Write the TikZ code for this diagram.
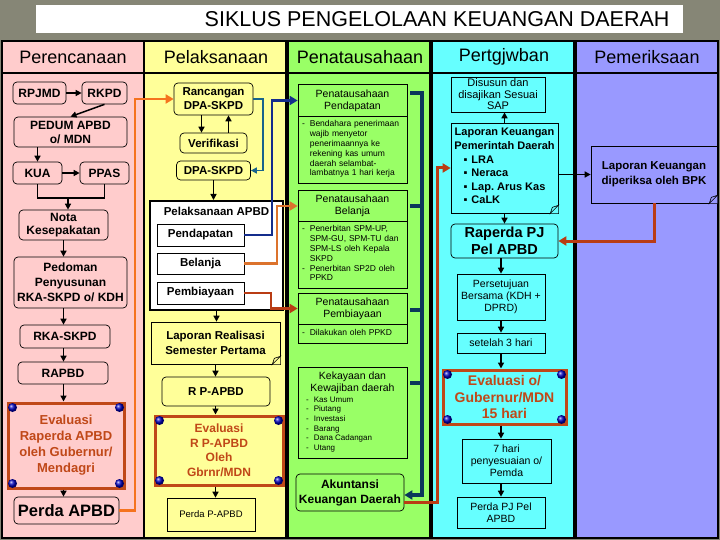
\documentclass[tikz,border=0pt]{standalone}
\usepackage{fontspec}
\setmainfont{Liberation Sans}
\usepackage{tikz}
\usetikzlibrary{arrows.meta,calc,positioning}

\definecolor{bgc}{RGB}{134,134,118}
\definecolor{pinkc}{RGB}{255,204,204}
\definecolor{yellowc}{RGB}{255,255,153}
\definecolor{greenc}{RGB}{153,255,102}
\definecolor{cyanc}{RGB}{102,255,255}
\definecolor{lilac}{RGB}{153,153,255}
\definecolor{brick}{RGB}{192,72,24}
\definecolor{orangec}{RGB}{245,115,30}
\definecolor{ambre}{RGB}{220,115,45}
\definecolor{tealc}{RGB}{25,100,140}
\definecolor{bluec}{RGB}{20,45,140}
\definecolor{navyc}{RGB}{10,55,90}
\definecolor{redc}{RGB}{185,60,20}
\newcommand{\fsz}[2]{\fontsize{#1}{#2}\selectfont}

\begin{document}
\begin{tikzpicture}[
    x=1pt, y=-1pt,
    box/.style={draw, line width=0.7pt, rounded corners=4pt, align=center, inner sep=1pt, font=\fsz{12}{14}\bfseries},
    sqbox/.style={draw, line width=0.7pt, align=center, inner sep=1pt, font=\fsz{10.5}{12}},
    desc/.style={draw, line width=0.7pt, fill=greenc, minimum width=109pt, text width=101pt, align=left, inner sep=4pt, font=\fsz{8.5}{9.8}},
    evalbox/.style={draw=brick, line width=3pt, align=center, inner sep=1pt, text=brick, font=\fsz{13}{16}\bfseries},
    head/.style={font=\fsz{18}{20}},
    arrow/.style={-{Triangle[length=6pt,width=6pt]}, line width=1.5pt},
    bigtip/.style={-{Triangle[length=8pt,width=9pt]}},
]
    % Background and title
    \useasboundingbox (0,0) rectangle (720,540);
    \fill[bgc] (0,0) rectangle (720,540);
    \fill[white] (36,5) rectangle (683,33);
    \node[anchor=east, font=\fsz{21.5}{24}] (title) at (673,19) {SIKLUS PENGELOLAAN KEUANGAN DAERAH};

    % Columns
    \foreach \x/\c in {2/pinkc,144/yellowc,288/greenc,432/cyanc,576/lilac}
        \filldraw[fill=\c, line width=1.5pt] (\x,41) rectangle ++(142,497);
    \draw[line width=1.5pt] (2,73) -- (718,73);
    \node[head] (hplan) at (73,57) {Perencanaan};
    \node[head] (hlaks) at (216,57) {Pelaksanaan};
    \node[head] (htata) at (360,57) {Penatausahaan};
    \node[head] (htjwb) at (504,57) {Pertgjwban};
    \node[head] (hperiksa) at (647,57) {Pemeriksaan};

    % Perencanaan
    \node[box, fill=pinkc, minimum width=53pt, minimum height=22pt] (rpjmd) at (39.5,93) {RPJMD};
    \node[box, fill=pinkc, minimum width=45pt, minimum height=22pt] (rkpd) at (104.5,93) {RKPD};
    \node[box, fill=pinkc, minimum width=113pt, minimum height=30pt] (pedum) at (70.5,132) {PEDUM APBD\\o/ MDN};
    \node[box, fill=pinkc, minimum width=49pt, minimum height=22pt] (kua) at (37.5,173) {KUA};
    \node[box, fill=pinkc, minimum width=49pt, minimum height=22pt] (ppas) at (104.5,173) {PPAS};
    \node[box, fill=pinkc, minimum width=89pt, minimum height=30pt, font=\fsz{12}{13}\bfseries] (nota) at (63.5,225) {Nota\\Kesepakatan};
    \node[box, fill=pinkc, minimum width=113pt, minimum height=51pt, font=\fsz{12}{15}\bfseries] (pedoman) at (70.5,282.5) {Pedoman\\Penyusunan\\RKA-SKPD o/ KDH};
    \node[box, fill=pinkc, minimum width=90pt, minimum height=23pt] (rka) at (65,336.5) {RKA-SKPD};
    \node[box, fill=pinkc, minimum width=90pt, minimum height=22pt] (rapbd) at (63,373) {RAPBD};
    \node[evalbox, fill=pinkc, minimum width=116pt, minimum height=85pt] (evalraperda) at (66,445.5) {Evaluasi\\Raperda APBD\\oleh Gubernur/\\Mendagri};
    \node[box, fill=pinkc, minimum width=105pt, minimum height=27pt, font=\fsz{16.5}{18}\bfseries] (perdaapbd) at (66.5,510.5) {Perda APBD};

    \draw[arrow] (rpjmd) -- (rkpd);
    \draw[arrow] (rkpd.south) -- (pedum.north);
    \draw[arrow] (pedum.south -| kua) -- (kua.north);
    \draw[arrow] (kua) -- (ppas);
    \coordinate (kpjoin) at (68,198);
    \draw[line width=1.5pt] (kua.south) |- (kpjoin) -| (ppas.south);
    \draw[arrow] (kpjoin) -- (kpjoin |- nota.north);
    \foreach \a/\b in {nota/pedoman,pedoman/rka,rka/rapbd,rapbd/evalraperda,evalraperda/perdaapbd}
        \draw[arrow] (\a.south -| nota) -- (\b.north -| nota);

    % Pelaksanaan
    \node[box, fill=yellowc, minimum width=79pt, minimum height=32pt, font=\fsz{11.5}{14}\bfseries] (rancangan) at (213.5,99) {Rancangan\\DPA-SKPD};
    \node[box, fill=yellowc, minimum width=67pt, minimum height=20pt, font=\fsz{11.5}{14}\bfseries] (verifikasi) at (213.5,143) {Verifikasi};
    \node[box, fill=yellowc, minimum width=74pt, minimum height=19pt, font=\fsz{11.5}{14}\bfseries] (dpaskpd) at (213.5,170.5) {DPA-SKPD};
    \node[draw, fill=white, line width=2pt, minimum width=133pt, minimum height=109pt] (pelak) at (216.5,255.5) {};
    \node[font=\fsz{11.5}{14}\bfseries] (pelaktitle) at (216.5,211) {Pelaksanaan APBD};
    \node[sqbox, fill=white, minimum width=87pt, minimum height=22pt, font=\fsz{11.5}{14}\bfseries] (pendapatan) at (200.5,235) {Pendapatan};
    \node[sqbox, fill=white, minimum width=87pt, minimum height=21pt, font=\fsz{11.5}{14}\bfseries] (belanja) at (200.5,263.5) {Belanja};
    \node[sqbox, fill=white, minimum width=87pt, minimum height=22pt, font=\fsz{11.5}{14}\bfseries] (pembiayaan) at (200.5,293) {Pembiayaan};
    \node[sqbox, fill=yellowc, minimum width=129pt, minimum height=42pt, font=\fsz{11.5}{15}\bfseries] (laporanreal) at (215.5,343) {Laporan Realisasi\\Semester Pertama};
    \node[box, fill=yellowc, minimum width=108pt, minimum height=29pt, font=\fsz{11.5}{14}\bfseries] (rpapbd) at (216,391.5) {R P-APBD};
    \node[evalbox, fill=yellowc, minimum width=128pt, minimum height=69pt, font=\fsz{12}{14.5}\bfseries] (evalrp) at (219,450.5) {Evaluasi\\R P-APBD\\Oleh\\Gbrnr/MDN};
    \node[sqbox, fill=yellowc, minimum width=88pt, minimum height=33pt, font=\fsz{9.5}{11}] (perdap) at (211,514.5) {Perda P-APBD};

    \draw[arrow] ([xshift=-12pt]rancangan.south) -- ([xshift=-12pt]rancangan.south |- verifikasi.north);
    \draw[arrow] ([xshift=15pt]verifikasi.north) -- ([xshift=15pt]verifikasi.north |- rancangan.south);
    \draw[arrow] (dpaskpd.south) -- (dpaskpd.south |- pelak.north);
    \draw[arrow] (pelak.south) -- (pelak.south |- laporanreal.north);
    \foreach \a/\b in {laporanreal/rpapbd,rpapbd/evalrp,evalrp/perdap}
        \draw[arrow] (\a.south -| laporanreal) -- (\b.north -| laporanreal);

    % Penatausahaan
    \node[sqbox, fill=greenc, minimum width=109pt, minimum height=33pt] (ptpend) at (352.5,100.5) {Penatausahaan\\Pendapatan};
    \node[desc, minimum height=65pt] (ptpenddesc) at (352.5,149.5) {\begin{tabular}{@{}l@{\hspace{5pt}}l@{}}-&Bendahara penerimaan\\&wajib menyetor\\&penerimaannya ke\\&rekening kas umum\\&daerah selambat-\\&lambatnya 1 hari kerja\end{tabular}};
    \node[sqbox, fill=greenc, minimum width=109pt, minimum height=32pt] (ptbel) at (352.5,206) {Penatausahaan\\Belanja};
    \node[desc, minimum height=65pt] (ptbeldesc) at (352.5,254.5) {\begin{tabular}{@{}l@{\hspace{5pt}}l@{}}-&Penerbitan SPM-UP,\\&SPM-GU, SPM-TU dan\\&SPM-LS oleh Kepala\\&SKPD\\-&Penerbitan SP2D oleh\\&PPKD\end{tabular}};
    \node[sqbox, fill=greenc, minimum width=109pt, minimum height=31pt] (ptpemb) at (352.5,308.5) {Penatausahaan\\Pembiayaan};
    \node[desc, minimum height=19pt, inner ysep=2pt] (ptpembdesc) at (352.5,333.5) {\begin{tabular}{@{}l@{\hspace{5pt}}l@{}}-&Dilakukan oleh PPKD\end{tabular}};
    \node[sqbox, fill=greenc, minimum width=109pt, minimum height=91pt] (kekayaan) at (352.5,412.5) {Kekayaan dan\\Kewajiban daerah\\[1pt]{\fsz{8}{9.6}\begin{tabular}{@{}l@{\hspace{5pt}}p{85pt}@{}}-&Kas Umum\\-&Piutang\\-&Investasi\\-&Barang\\-&Dana Cadangan\\-&Utang\end{tabular}}};
    \node[box, fill=greenc, minimum width=108pt, minimum height=37pt, font=\fsz{12}{15}\bfseries] (akuntansi) at (350,492.5) {Akuntansi\\Keuangan Daerah};

    % Pertgjwban
    \node[sqbox, fill=cyanc, minimum width=94pt, minimum height=35pt, inner sep=0pt, font=\fsz{11}{11.5}] (disusun) at (498,94.5) {Disusun dan\\disajikan Sesuai\\SAP};
    \node[sqbox, fill=cyanc, minimum width=107pt, minimum height=90pt, font=\fsz{11}{13.5}\bfseries] (lapkeu) at (504.5,168) {Laporan Keuangan\\Pemerintah Daerah\\[3pt]\begin{tabular}{@{}l@{\hspace{4pt}}l@{}}▪&LRA\\▪&Neraca\\▪&Lap.\ Arus Kas\\▪&CaLK\end{tabular}};
    \node[box, fill=cyanc, minimum width=107pt, minimum height=34pt, font=\fsz{14.5}{17}\bfseries] (raperdapj) at (504.5,241) {Raperda PJ\\Pel APBD};
    \node[sqbox, fill=cyanc, minimum width=88pt, minimum height=46pt] (persetujuan) at (501,297) {Persetujuan\\Bersama (KDH +\\DPRD)};
    \node[sqbox, fill=cyanc, minimum width=88pt, minimum height=20pt] (setelah) at (501,343) {setelah 3 hari};
    \node[evalbox, fill=cyanc, minimum width=123pt, minimum height=54pt, font=\fsz{14}{16.5}\bfseries] (evalgub) at (504.5,397) {Evaluasi o/\\Gubernur/MDN\\15 hari};
    \node[sqbox, fill=cyanc, minimum width=89pt, minimum height=44pt] (tujuhhari) at (506.5,461) {7 hari\\penyesuaian o/\\Pemda};
    \node[sqbox, fill=cyanc, minimum width=88pt, minimum height=31pt] (perdapj) at (501,512.5) {Perda PJ Pel\\APBD};

    \draw[arrow] (lapkeu.north) -- (lapkeu.north |- disusun.south);
    \draw[arrow] (lapkeu) -- (raperdapj);
    \foreach \a/\b in {raperdapj/persetujuan,persetujuan/setelah,setelah/evalgub,evalgub/tujuhhari,tujuhhari/perdapj}
        \draw[arrow] (\a.south -| setelah) -- (\b.north -| setelah);

    % Pemeriksaan
    \node[sqbox, fill=lilac, minimum width=126pt, minimum height=57pt, font=\fsz{11.5}{15}\bfseries] (bpk) at (654,174.5) {Laporan Keuangan\\diperiksa oleh BPK};

    % Folded corners and globes
    \foreach \n/\c in {laporanreal/yellowc,lapkeu/cyanc,bpk/lilac} {
        \fill[\c] ([xshift=-8pt]\n.south east) -- (\n.south east) -- ([yshift=8pt]\n.south east) -- cycle;
        \draw[line width=0.6pt] ([xshift=-8pt]\n.south east) -- ([yshift=8pt]\n.south east) -- ([xshift=-6pt,yshift=6pt]\n.south east) -- cycle;
    }
    \foreach \n in {evalraperda,evalrp,evalgub}
        \foreach \a/\dx/\dy in {north west/6/-6,north east/-6/-6,south west/6/6,south east/-6/6}
            \shade[ball color=blue!75!black] ([xshift=\dx pt,yshift=\dy pt]\n.\a) circle (4.5pt);

    % Flow between columns
    \coordinate (orx) at (135,300);
    \coordinate (tlx) at (263,130);
    \coordinate (blx) at (272,160);
    \coordinate (bex) at (277,230);
    \coordinate (pbx) at (271,300);
    \coordinate (nvx) at (422,300);
    \coordinate (rdx) at (437,300);
    \coordinate (akin) at ([yshift=-2.5pt]akuntansi.east);
    \coordinate (akout) at ([yshift=-9.5pt]akuntansi.east);

    \draw[bigtip, orangec, line width=2.5pt] (perdaapbd.east) -- (perdaapbd.east -| orx) -- (orx |- rancangan.west) -- (rancangan.west);
    \draw[arrow, tealc] (rancangan.east) -- (rancangan.east -| tlx) -- (tlx |- dpaskpd.east) -- (dpaskpd.east);
    \draw[bigtip, bluec, line width=2.5pt] (pendapatan.east) -- (pendapatan.east -| blx) -- (blx |- ptpend.west) -- (ptpend.west);
    \draw[bigtip, ambre, line width=2.5pt] (belanja.east) -- (belanja.east -| bex) -- (bex |- ptbel.west) -- (ptbel.west);
    \draw[bigtip, redc, line width=2.5pt] (pembiayaan.east) -- (pembiayaan.east -| pbx) -- (pbx |- ptpemb.west) -- (ptpemb.west);

    \draw[bigtip, navyc, line width=3.5pt, shorten <=3pt] ([yshift=7.5pt]ptpend.east) -- ([yshift=7.5pt]ptpend.east -| nvx) -- (nvx |- akin) -- (akin);
    \draw[navyc, line width=3.5pt, shorten <=3pt] (ptbel.east) -- (ptbel.east -| nvx);
    \draw[navyc, line width=3.5pt, shorten <=3pt] ([yshift=-1.5pt]ptpemb.east) -- ([yshift=-1.5pt]ptpemb.east -| nvx);
    \draw[navyc, line width=3.5pt, shorten <=3pt] ([yshift=29.5pt]kekayaan.east) -- ([yshift=29.5pt]kekayaan.east -| nvx);

    \draw[bigtip, redc, line width=3pt] (akout) -- (akout -| rdx) -- (rdx |- lapkeu.west) -- (lapkeu.west);
    \draw[arrow] (lapkeu.east |- bpk.west) -- (bpk.west);
    \draw[bigtip, redc, line width=3pt] (bpk.south) |- (raperdapj.east);
\end{tikzpicture}
\end{document}
